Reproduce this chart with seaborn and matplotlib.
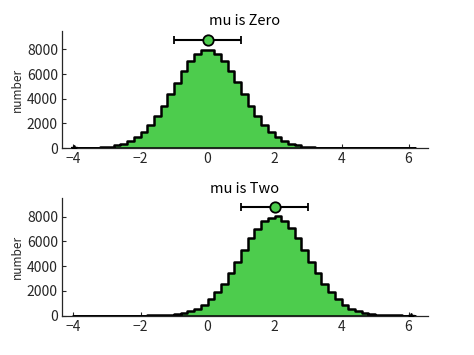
"""Two normal histograms (mu = 0 and mu = 2) with mean +/- std error bars."""
import numpy as np
import pandas as pd
import matplotlib

matplotlib.use("Agg")
import matplotlib.pyplot as plt
import seaborn as sns

sns.set_theme(style="ticks")
plt.rcParams["font.family"] = ["Noto Sans CJK JP", "DejaVu Sans"]

# bins: width 0.2 from -4.0 to 6.2
bin_lo, bin_hi, bin_w = -4.0, 6.2, 0.2

counts_zero = [4, 9, 18, 33, 66, 121, 206, 349, 571, 877,
               1318, 1874, 2598, 3420, 4366, 5311, 6257, 7032, 7641, 7925,
               7951, 7617, 7048, 6236, 5330, 4349, 3437, 2584, 1889, 1306,
               884, 563, 354, 210, 117, 64, 35, 17, 8, 4,
               2, 1, 0, 0, 0, 0, 0, 0, 0, 0, 0]
counts_two = [0, 0, 0, 0, 0, 0, 0, 0, 1, 1,
              5, 8, 17, 34, 64, 120, 210, 352, 565, 881,
              1311, 1883, 2592, 3433, 4352, 5318, 6249, 7037, 7625, 7900,
              8060, 7610, 7052, 6240, 5325, 4360, 3421, 2590, 1878, 1320,
              873, 569, 347, 213, 118, 67, 33, 17, 9, 4, 2]

titles = ["mu is Zero", "mu is Two"]
means = [0.0, 2.0]
stds = [1.0, 1.0]
bar_y = [8800, 8800]
extreme_x = [-3.97, 6.08]

GREEN = "#4dcc4d"

centers = bin_lo + bin_w * (np.arange(len(counts_zero)) + 0.5)

fig = plt.figure(figsize=(4.74, 3.55), dpi=100)
ax_top = fig.add_axes([0.131, 0.583, 0.772, 0.330])
ax_bot = fig.add_axes([0.131, 0.111, 0.772, 0.331])

for ax, counts, title, mu, sd, yb, xe in zip(
        [ax_top, ax_bot], [counts_zero, counts_two], titles, means, stds, bar_y, extreme_x):
    df = pd.DataFrame({"x": centers, "n": counts})
    sns.histplot(data=df, x="x", weights="n", binwidth=bin_w,
                 binrange=(bin_lo, bin_hi), element="step",
                 fill=True, color=GREEN, edgecolor="black", linewidth=1.8,
                 alpha=1, ax=ax)
    ax.errorbar([mu], [yb], xerr=[sd], fmt="o", color="black", ecolor="black",
                elinewidth=1.5, capsize=3, capthick=1.5, ms=7.5,
                mfc=GREEN, mec="black", mew=1.3, zorder=5)
    ax.plot([xe], [0], marker="*", color="black", ms=5, zorder=6)

    ax.set_xlim(-4.34, 6.58)
    ax.set_ylim(0, 9500)
    ax.set_xticks([-4, -2, 0, 2, 4, 6])
    ax.set_yticks([0, 2000, 4000, 6000, 8000])
    ax.set_title(title, fontsize=10.5, pad=4, color="black")
    ax.set_xlabel("")
    ax.set_ylabel("number", fontsize=8.5, labelpad=2)
    ax.tick_params(direction="in", length=3, width=0.8, labelsize=10,
                   colors="#262626", pad=3)
    for s in ["top", "right"]:
        ax.spines[s].set_visible(False)
    for s in ["left", "bottom"]:
        ax.spines[s].set_color("#262626")
        ax.spines[s].set_linewidth(0.9)

fig.savefig("out.png", dpi=100)
